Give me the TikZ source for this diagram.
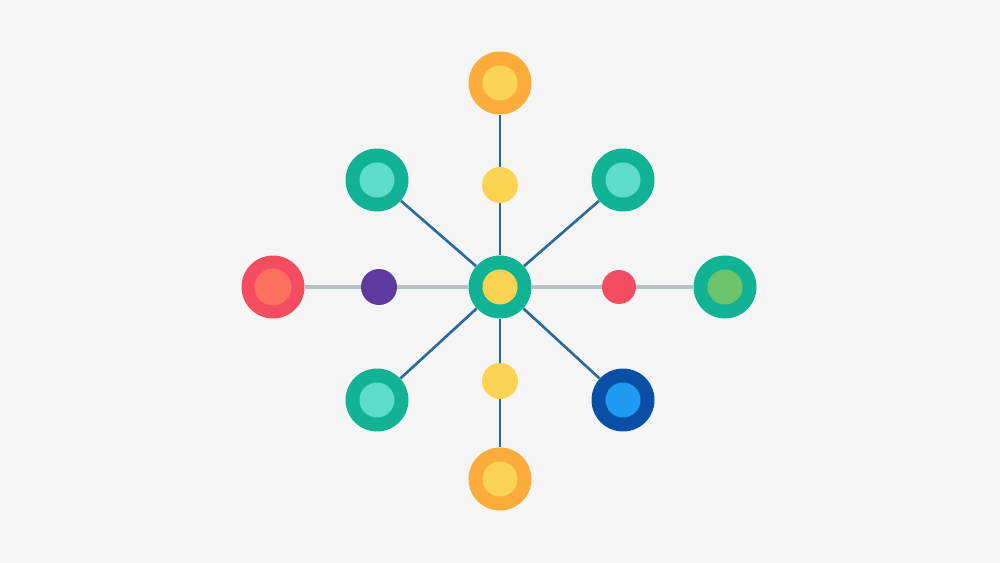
\documentclass[tikz,border=0pt]{standalone}
\usepackage{xcolor}
\definecolor{bgc}{HTML}{F5F5F5}
\definecolor{tealc}{HTML}{12B394}
\definecolor{mintc}{HTML}{5DDBCB}
\definecolor{yelc}{HTML}{FBD352}
\definecolor{orc}{HTML}{FBAC3A}
\definecolor{redc}{HTML}{F44D62}
\definecolor{salc}{HTML}{FD6F5F}
\definecolor{purc}{HTML}{5E3AA0}
\definecolor{grnc}{HTML}{6BC36B}
\definecolor{navc}{HTML}{0A4FA6}
\definecolor{skyc}{HTML}{1E9AF0}
\definecolor{linec}{HTML}{2A6B9C}
\definecolor{grayc}{HTML}{B4C2C8}

\begin{document}
\begin{tikzpicture}[x=0.02cm,y=-0.02cm,
  ring/.style = {circle, inner sep=0pt, minimum size=1.26cm},
  core/.style = {circle, inner sep=0pt, minimum size=0.70cm},
  dot/.style = {circle, inner sep=0pt, minimum size=0.72cm}]
      \fill[bgc] (0,0) rectangle (1000,563);

      \node[ring, fill=tealc](hub) at (500,287){};
      \node[core, fill=yelc](hubin) at (hub){};

      \node[ring, fill=orc](top) at (500,83){};
      \node[core, fill=yelc](topin) at (top){};
      \node[dot, fill=yelc](topdot) at (500,185){};

      \node[ring, fill=orc](bot) at (500,479){};
      \node[core, fill=yelc](botin) at (bot){};
      \node[dot, fill=yelc](botdot) at (500,381){};

      \node[ring, fill=tealc](tl) at (377,180){};
      \node[core, fill=mintc](tlin) at (tl){};
      \node[ring, fill=tealc](tr) at (623,180){};
      \node[core, fill=mintc](trin) at (tr){};
      \node[ring, fill=tealc](bl) at (377,400){};
      \node[core, fill=mintc](blin) at (bl){};
      \node[ring, fill=navc](br) at (623,400){};
      \node[core, fill=skyc](brin) at (br){};

      \node[ring, fill=redc](lft) at (273,287){};
      \node[core, fill=salc, minimum size=0.74cm](lftin) at (lft){};
      \node[dot, fill=purc](lftdot) at (379,287){};

      \node[ring, fill=tealc](rgt) at (725,287){};
      \node[core, fill=grnc](rgtin) at (rgt){};
      \node[dot, fill=redc, minimum size=0.68cm](rgtdot) at (619,287){};

      \path[draw=linec, line width=1.5pt]
      (hub) edge (topdot)
      (topdot) edge (top)
      (hub) edge (botdot)
      (botdot) edge (bot)
      (hub) edge (tl)
      (hub) edge (tr)
      (hub) edge (bl)
      (hub) edge (br)
      ;

      \path[draw=grayc, line width=2pt]
      (hub) edge (lftdot)
      (lftdot) edge (lft)
      (hub) edge (rgtdot)
      (rgtdot) edge (rgt)
      ;

\end{tikzpicture}
\end{document}
